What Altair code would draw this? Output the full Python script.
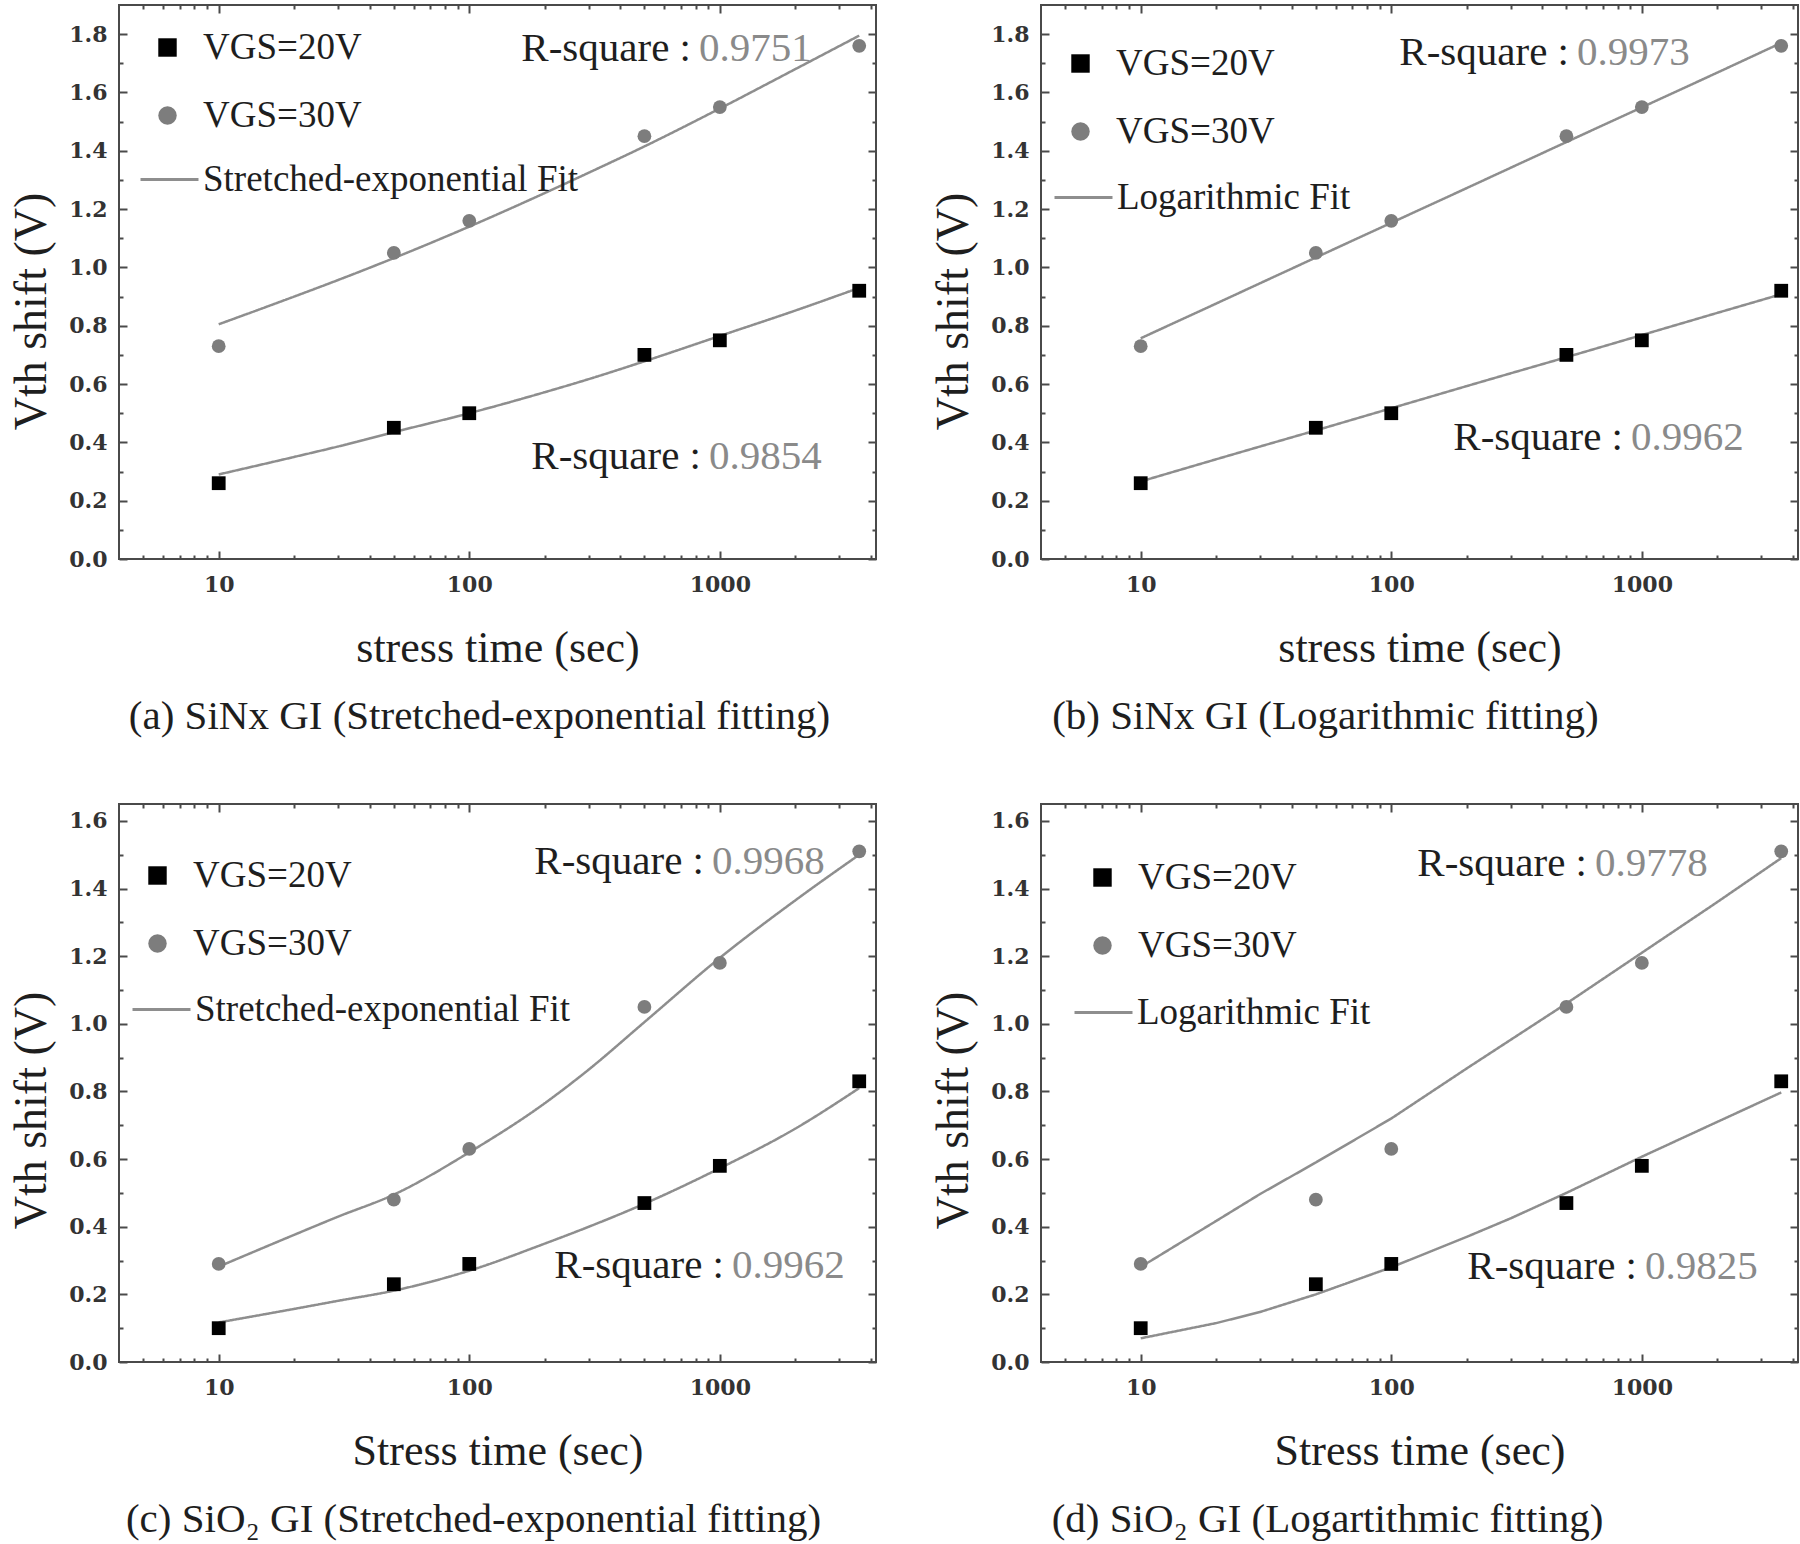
import altair as alt
import pandas as pd

# Stress times (s) at which the threshold-voltage shift was measured
TIMES = [10, 50, 100, 500, 1000, 3600]
# Stress times at which the fitted curves are traced
FIT_TIMES = [10, 20, 30, 50, 100, 200, 300, 500, 1000, 2000, 3600]

# Measured Vth shift (V)
SINX_VGS20 = [0.26, 0.45, 0.50, 0.70, 0.75, 0.92]
SINX_VGS30 = [0.73, 1.05, 1.16, 1.45, 1.55, 1.76]
SIO2_VGS20 = [0.10, 0.23, 0.29, 0.47, 0.58, 0.83]
SIO2_VGS30 = [0.29, 0.48, 0.63, 1.05, 1.18, 1.51]

# Fitted Vth shift (V) along FIT_TIMES
SINX_STRETCHED_20 = [0.29, 0.35, 0.386, 0.435, 0.50, 0.572, 0.617, 0.678, 0.765, 0.852, 0.93]
SINX_STRETCHED_30 = [0.805, 0.90, 0.957, 1.032, 1.14, 1.255, 1.325, 1.415, 1.545, 1.68, 1.795]
SINX_LOG_20 = [0.266, 0.342, 0.386, 0.441, 0.517, 0.593, 0.637, 0.692, 0.768, 0.844, 0.908]
SINX_LOG_30 = [0.757, 0.876, 0.946, 1.034, 1.153, 1.272, 1.342, 1.43, 1.549, 1.668, 1.77]
SIO2_STRETCHED_20 = [0.117, 0.157, 0.181, 0.211, 0.27, 0.35, 0.40, 0.468, 0.573, 0.69, 0.81]
SIO2_STRETCHED_30 = [0.282, 0.376, 0.43, 0.495, 0.62, 0.765, 0.865, 1.005, 1.195, 1.365, 1.50]
SIO2_LOG_20 = [0.07, 0.115, 0.148, 0.20, 0.28, 0.37, 0.425, 0.50, 0.607, 0.71, 0.797]
SIO2_LOG_30 = [0.281, 0.417, 0.497, 0.59, 0.72, 0.868, 0.953, 1.06, 1.21, 1.36, 1.49]

# Goodness of fit (VGS=30V curve, VGS=20V curve)
R2_A = ["0.9751", "0.9854"]
R2_B = ["0.9973", "0.9962"]
R2_C = ["0.9968", "0.9962"]
R2_D = ["0.9778", "0.9825"]

SERIES = ["VGS=20V", "VGS=30V"]
FIT_STRETCHED = "Stretched-exponential Fit"
FIT_LOG = "Logarithmic Fit"

CAPTIONS = [
    "(a) SiNx GI (Stretched-exponential fitting)",
    "(b) SiNx GI (Logarithmic fitting)",
    "(c) SiO\u2082 GI (Stretched-exponential fitting)",
    "(d) SiO\u2082 GI (Logartithmic fitting)",
]

# ---- styling -------------------------------------------------------------
SERIF = "Liberation Serif"
TICK_FONT = "DejaVu Serif"
FRAME = "#4a4a4a"
INK = "#1e1e1e"
GREY_PT = "#7d7d7d"
GREY_FIT = "#8e8e8e"
GREY_R2 = "#8a8a8a"

W = 757
H_TOP = 554
H_BOT = 558

X_TICKS = [m * 10 ** k for k in range(0, 4) for m in range(1, 10) if 4 < m * 10 ** k < 4200]
X_MAJOR = "datum.value == 10 || datum.value == 100 || datum.value == 1000"
Y_MAJOR = "round(datum.value * 10) % 2 == 0"


def tick_axis(orient, values, major_test, offset):
    """Unlabelled axis drawn on a frame edge with its ticks pointing inward."""
    return alt.Axis(
        orient=orient, offset=offset, values=values, labels=False, domain=False,
        grid=False, title=None, ticks=True, tickColor=FRAME, tickWidth=2,
        tickSize={"condition": {"test": major_test, "value": 8}, "value": 4},
    )


def label_x_axis(title):
    return alt.Axis(
        orient="bottom", values=[10, 100, 1000], format="d", ticks=False, tickSize=0,
        domain=False, grid=False, labelFont=TICK_FONT, labelFontSize=22,
        labelFontWeight="bold", labelColor="#333333", labelPadding=15,
        title=title, titleFont=SERIF, titleFontSize=44, titleFontWeight="normal",
        titleColor=INK, titleY=89, titleBaseline="middle",
    )


def label_y_axis(values):
    return alt.Axis(
        orient="left", values=values, format=".1f", ticks=False, tickSize=0,
        domain=False, grid=False, labelFont=TICK_FONT, labelFontSize=22,
        labelFontWeight="bold", labelColor="#333333", labelPadding=12,
        title="Vth shift (V)", titleFont=SERIF, titleFontSize=46,
        titleFontWeight="normal", titleColor=INK, titleAngle=270, titleX=-88,
        titleY=306, titleAlign="center", titleBaseline="middle",
    )


def text_layer(s, x, y, align, color):
    return alt.Chart(pd.DataFrame({"s": [s]})).mark_text(
        font=SERIF, fontSize=41, align=align, baseline="middle", color=color
    ).encode(x=alt.value(x), y=alt.value(y), text="s:N")


def panel(vgs20, vgs30, fit20, fit30, fit_name, interp, r2, xtitle, caption,
          ymax, ytop_tick, height, lay):
    pts20 = pd.DataFrame({"t": TIMES, "v": vgs20, "series": SERIES[0]})
    pts30 = pd.DataFrame({"t": TIMES, "v": vgs30, "series": SERIES[1]})
    fits = pd.concat([
        pd.DataFrame({"t": FIT_TIMES, "v": fit20, "curve": "20V", "fit": fit_name}),
        pd.DataFrame({"t": FIT_TIMES, "v": fit30, "curve": "30V", "fit": fit_name}),
    ])

    xs = alt.Scale(type="log", domain=[4, 4200], nice=False)
    ys = alt.Scale(domain=[0, ymax], nice=False, zero=False)
    y_ticks = [round(0.1 * i, 1) for i in range(int(round(ytop_tick * 10)) + 1)]
    y_major = [v for v in y_ticks if round(v * 10) % 2 == 0]

    pts_legend = alt.Legend(
        orient="none", legendX=lay["pts"][0], legendY=lay["pts"][1], title=None,
        symbolSize=340, symbolStrokeWidth=0, symbolOpacity=1, labelFont=SERIF,
        labelFontSize=37, labelColor=INK, labelOffset=17, labelLimit=0,
        rowPadding=30, padding=0,
    )
    color = alt.Color("series:N", scale=alt.Scale(domain=SERIES, range=["#000000", GREY_PT]),
                      legend=pts_legend)
    shape = alt.Shape("series:N", scale=alt.Scale(domain=SERIES, range=["square", "circle"]),
                      legend=pts_legend)

    fit_layer = alt.Chart(fits).mark_line(
        color=GREY_FIT, strokeWidth=2.5, interpolate=interp
    ).encode(
        x=alt.X("t:Q", scale=xs, axis=tick_axis("top", X_TICKS, X_MAJOR, -height)),
        y=alt.Y("v:Q", scale=ys, axis=tick_axis("right", y_ticks, Y_MAJOR, -W)),
        detail="curve:N",
        strokeDash=alt.StrokeDash(
            "fit:N", scale=alt.Scale(domain=[fit_name], range=[[1, 0]]),
            legend=alt.Legend(
                orient="none", legendX=lay["fit"][0], legendY=lay["fit"][1], title=None,
                symbolType="stroke", symbolSize=3364, symbolStrokeWidth=3,
                symbolStrokeColor=GREY_FIT, labelFont=SERIF, labelFontSize=37,
                labelColor=INK, labelOffset=3, labelLimit=0, padding=0,
            ),
        ),
    )

    sq_layer = alt.Chart(pts20).mark_point(filled=True, size=190, opacity=1).encode(
        x=alt.X("t:Q", scale=xs, axis=tick_axis("bottom", X_TICKS, X_MAJOR, -height)),
        y=alt.Y("v:Q", scale=ys, axis=tick_axis("left", y_ticks, Y_MAJOR, -W)),
        color=color, shape=shape,
    )

    circ_layer = alt.Chart(pts30).mark_point(filled=True, size=190, opacity=1).encode(
        x=alt.X("t:Q", scale=xs, axis=label_x_axis(xtitle)),
        y=alt.Y("v:Q", scale=ys, axis=label_y_axis(y_major)),
        color=color, shape=shape,
    )

    (tx, ty), (bx, by) = lay["r2_top"], lay["r2_bot"]
    texts = [
        text_layer("R-square :", tx - 4, ty, "right", INK),
        text_layer(r2[0], tx + 4, ty, "left", GREY_R2),
        text_layer("R-square :", bx - 4, by, "right", INK),
        text_layer(r2[1], bx + 4, by, "left", GREY_R2),
    ]

    return alt.layer(fit_layer, sq_layer, circ_layer, *texts).resolve_axis(
        x="independent", y="independent"
    ).properties(
        width=W, height=height,
        title=alt.TitleParams(
            caption, orient="bottom", anchor="middle", dx=lay["dx"], offset=27,
            font=SERIF, fontSize=41, fontWeight="normal", color=INK,
        ),
    )


LAYOUT_A = {"pts": (30, 24), "fit": (20, 144), "r2_top": (576, 44), "r2_bot": (586, 452), "dx": -18}
LAYOUT_B = {"pts": (21, 40), "fit": (12, 162), "r2_top": (532, 48), "r2_bot": (586, 433), "dx": -94}
LAYOUT_C = {"pts": (20, 53), "fit": (12, 175), "r2_top": (589, 58), "r2_bot": (609, 462), "dx": -24}
LAYOUT_D = {"pts": (43, 55), "fit": (32, 178), "r2_top": (550, 60), "r2_bot": (600, 463), "dx": -92}

panel_a = panel(SINX_VGS20, SINX_VGS30, SINX_STRETCHED_20, SINX_STRETCHED_30, FIT_STRETCHED,
                "monotone", R2_A, "stress time (sec)", CAPTIONS[0], 1.9, 1.8, H_TOP, LAYOUT_A)
panel_b = panel(SINX_VGS20, SINX_VGS30, SINX_LOG_20, SINX_LOG_30, FIT_LOG,
                "linear", R2_B, "stress time (sec)", CAPTIONS[1], 1.9, 1.8, H_TOP, LAYOUT_B)
panel_c = panel(SIO2_VGS20, SIO2_VGS30, SIO2_STRETCHED_20, SIO2_STRETCHED_30, FIT_STRETCHED,
                "monotone", R2_C, "Stress time (sec)", CAPTIONS[2], 1.65, 1.6, H_BOT, LAYOUT_C)
panel_d = panel(SIO2_VGS20, SIO2_VGS30, SIO2_LOG_20, SIO2_LOG_30, FIT_LOG,
                "linear", R2_D, "Stress time (sec)", CAPTIONS[3], 1.65, 1.6, H_BOT, LAYOUT_D)

chart = alt.concat(
    panel_a, panel_b, panel_c, panel_d,
    columns=2, spacing={"row": 245, "column": 165}, bounds="flush",
).resolve_scale(
    x="independent", y="independent", color="independent",
    shape="independent", strokeDash="independent",
).properties(
    padding={"left": 7, "top": 3, "right": 0, "bottom": 0}, background="white",
).configure_view(stroke=FRAME, strokeWidth=2)

chart.save("out.html", embed_options={"renderer": "svg", "actions": False})
